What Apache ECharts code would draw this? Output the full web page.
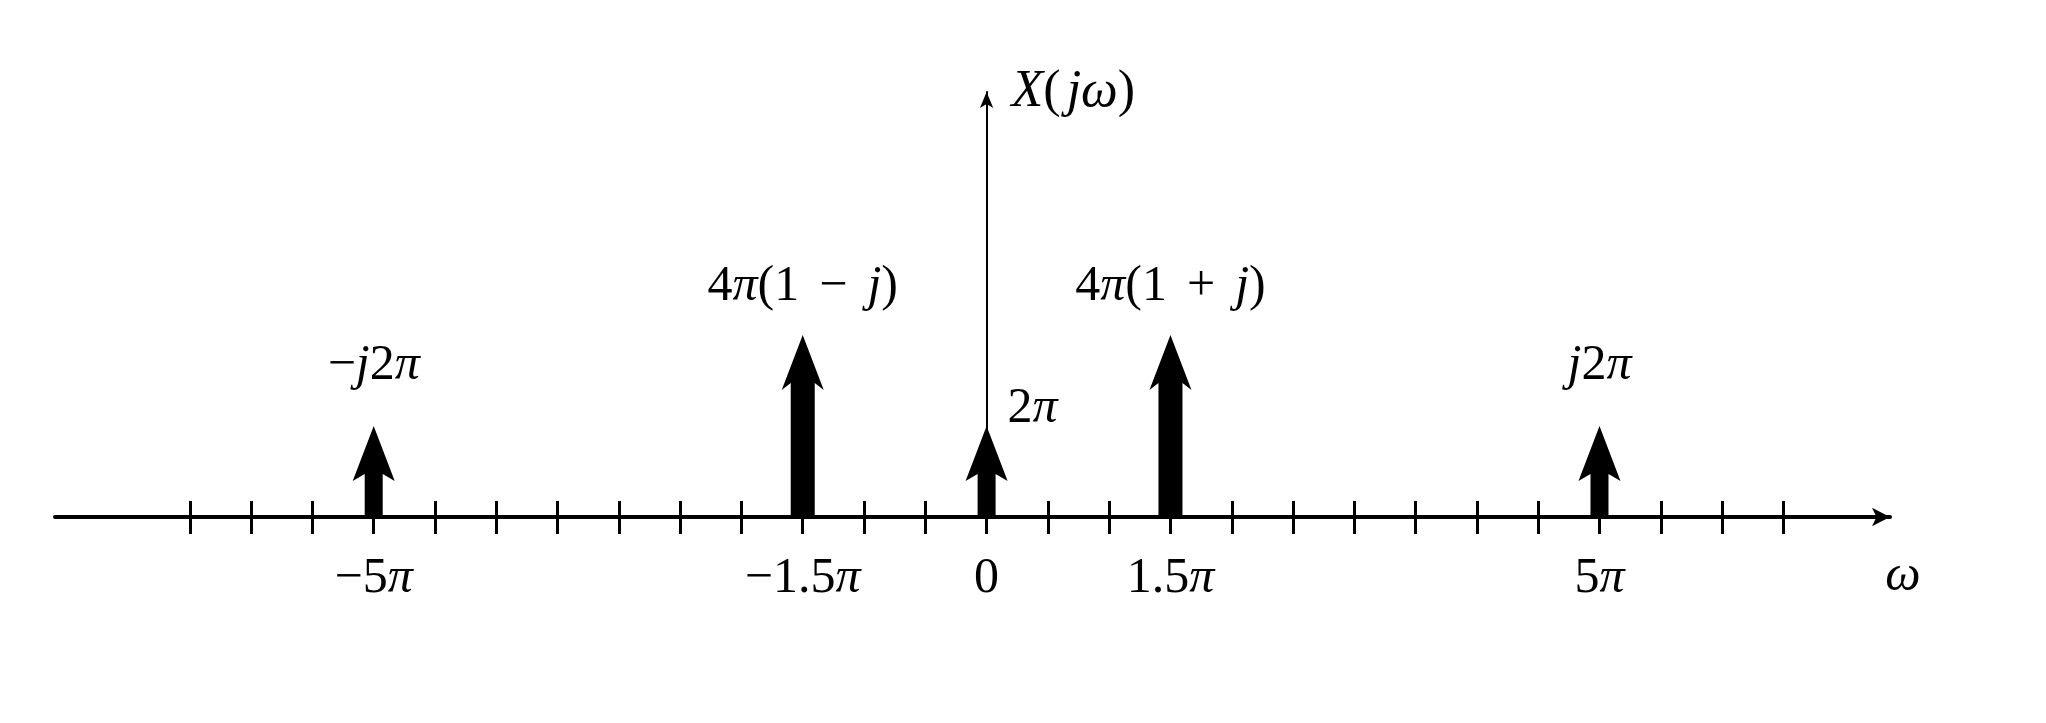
<!DOCTYPE html>
<html>
<head>
<meta charset="utf-8">
<style>
html,body{margin:0;padding:0;background:#fff;}
#chart{width:2046px;height:723px;}
</style>
<script src="https://cdn.jsdelivr.net/npm/echarts@6/dist/echarts.min.js"></script>
</head>
<body>
<div id="chart"></div>
<script>
// frequency positions (in units of pi)
const omega = [-5, -1.5, 0, 1.5, 5];
// impulse heights as drawn (in units of pi)
const heights = [2, 4, 2, 4, 2];
// impulse annotations
const impulseLabels = ['−j2π', '4π(1 − j)', '2π', '4π(1 + j)', 'j2π'];
// axis ticks (units of pi)
const tickValues = [-6.5, -6, -5.5, -5, -4.5, -4, -3.5, -3, -2.5, -2, -1.5, -1, -0.5, 0,
  0.5, 1, 1.5, 2, 2.5, 3, 3.5, 4, 4.5, 5, 5.5, 6, 6.5];
const tickLabelValues = [-5, -1.5, 0, 1.5, 5];
const xRange = [-7.6, 7.37];
const yRange = [0, 9.34];
const xName = 'ω';
const yName = 'X(jω)';

const FONT = '"Liberation Serif", "DejaVu Serif", serif';
const FS = 50;
function makeRich(fs) {
  return {
    n: {fontFamily: FONT, fontSize: fs, color: '#000'},
    i: {fontFamily: FONT, fontSize: fs, fontStyle: 'italic', color: '#000'},
    s: {fontFamily: FONT, fontSize: fs, width: 20, color: '#000'},
    t: {fontFamily: FONT, fontSize: fs, width: 6, color: '#000'},
    w: {fontFamily: FONT, fontSize: fs, fontStyle: 'italic', color: '#000', padding: [120, 0, 0, 0]}
  };
}
const rich = makeRich(FS);
const richName = makeRich(52);
function toRich(str) {
  let out = '';
  let buf = '';
  const flush = () => { if (buf) { out += '{n|' + buf + '}'; buf = ''; } };
  for (const ch of str) {
    if ('πjωX'.includes(ch)) { flush(); out += '{i|' + ch + '}'; }
    else if (ch === ' ') { flush(); out += '{s| }'; }
    else buf += ch;
  }
  flush();
  return out;
}
function piLabel(v) {
  if (v === 0) return '{n|0}';
  const s = (v < 0 ? '−' : '') + Math.abs(v);
  return toRich(s + 'π');
}

const chart = echarts.init(document.getElementById('chart'), null, {renderer: 'canvas'});
const data = omega.map((w, i) => [w, heights[i], i]);

chart.setOption({
  backgroundColor: '#fff',
  animation: false,
  grid: {left: 55, right: 156, top: 92, bottom: 206, containLabel: false},
  xAxis: [{
    type: 'value', min: xRange[0], max: xRange[1],
    name: '{w|' + xName + '}', nameLocation: 'end', nameGap: 13,
    nameTextStyle: {align: 'center', verticalAlign: 'middle', rich: rich},
    axisLine: {show: true, onZero: false, symbol: ['none', 'arrow'], symbolSize: [14, 18],
      lineStyle: {color: '#000', width: 4}},
    axisTick: {show: true, inside: false, length: 17, customValues: tickValues,
      lineStyle: {color: '#000', width: 3}},
    axisLabel: {show: true, customValues: tickLabelValues, margin: 37,
      formatter: v => piLabel(v), rich: rich},
    splitLine: {show: false}
  }, {
    type: 'value', min: xRange[0], max: xRange[1], position: 'bottom',
    axisLine: {show: false},
    axisTick: {show: true, inside: true, length: 16, customValues: tickValues,
      lineStyle: {color: '#000', width: 3}},
    axisLabel: {show: false},
    splitLine: {show: false}
  }],
  yAxis: {
    type: 'value', min: yRange[0], max: yRange[1],
    name: '{n|X(}{t| }{i|j}{i|ω}{n|)}'.replace('{n|X(}', '{i|X}{n|(}'), nameLocation: 'end', nameGap: 0,
    nameTextStyle: {align: 'left', verticalAlign: 'middle', padding: [0, 0, 0, 25], rich: richName},
    axisLine: {show: true, onZero: true, symbol: ['none', 'arrow'], symbolSize: [10, 16],
      lineStyle: {color: '#000', width: 2}},
    axisTick: {show: false},
    axisLabel: {show: false},
    splitLine: {show: false}
  },
  series: [{
    type: 'custom',
    xAxisIndex: 0,
    yAxisIndex: 0,
    data: data,
    z: 5,
    renderItem: function (params, api) {
      const x = api.value(0), h = api.value(1), idx = api.value(2);
      const base = api.coord([x, 0]);
      const tip = api.coord([x, h]);
      const big = h >= 3;
      const w = big ? 12 : 9;
      const hw = 21, hl = 55, notch = 7;
      const cx = tip[0], ty = tip[1];
      const pts = [
        [cx, ty], [cx + hw, ty + hl], [cx + w, ty + hl - notch], [cx + w, base[1]],
        [cx - w, base[1]], [cx - w, ty + hl - notch], [cx - hw, ty + hl]
      ];
      const lbl = impulseLabels[idx];
      let text;
      if (x === 0) {
        text = {type: 'text', style: {text: toRich(lbl), rich: rich, x: cx + 21, y: ty - 17,
          align: 'left', verticalAlign: 'middle'}};
      } else {
        text = {type: 'text', style: {text: toRich(lbl), rich: rich, x: cx, y: ty - (big ? 48 : 60),
          align: 'center', verticalAlign: 'middle'}};
      }
      return {
        type: 'group',
        children: [
          {type: 'polygon', shape: {points: pts}, style: {fill: '#000', stroke: null}},
          text
        ]
      };
    }
  }]
});
</script>
</body>
</html>
